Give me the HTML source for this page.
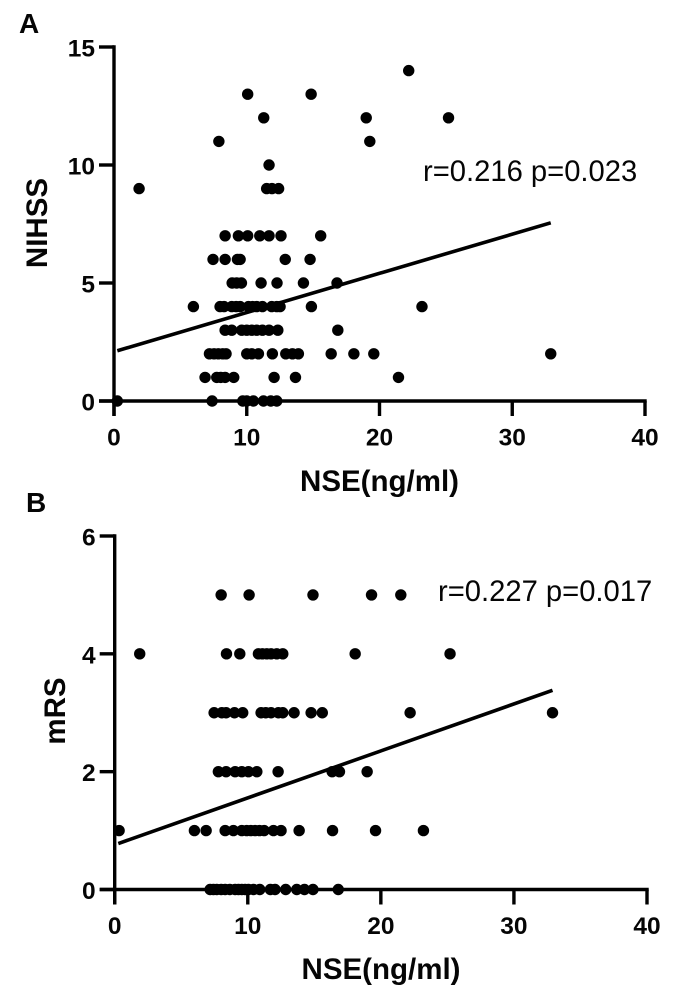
<!DOCTYPE html>
<html lang="en">
<head>
<meta charset="utf-8">
<title>NSE correlation scatter plots</title>
<style>
html,body{margin:0;padding:0;background:#fff;}
svg{display:block;filter:blur(0.35px);}
text{font-family:"Liberation Sans",Arial,sans-serif;fill:#050505;}
.tick{font-size:24.5px;font-weight:700;}
.title{font-size:29.5px;font-weight:700;}
.panel{font-size:28px;font-weight:700;}
.note{font-size:29.2px;font-weight:400;}
</style>
</head>
<body>
<svg id="chart" width="685" height="997" viewBox="0 0 685 997" xmlns="http://www.w3.org/2000/svg"></svg>
<script>
// Panel A data: x values (NSE) grouped by NIHSS score
const nihssLevels = [14,13,12,11,10,9,7,6,5,4,3,2,1,0];
const nihssNse = [
  [22.2],
  [10.07,14.85],
  [11.28,19.0,25.2],
  [7.9,19.27],
  [11.68],
  [1.89,11.5,11.9,12.4],
  [8.37,9.37,10.07,10.98,11.68,12.58,15.57],
  [7.46,8.37,9.3,9.5,12.9,14.77],
  [8.9,9.24,9.6,11.08,12.28,14.27,16.8],
  [5.98,7.99,8.29,8.87,9.2,9.5,10.13,10.45,10.75,11.18,11.88,12.26,12.51,14.87,23.2],
  [8.37,8.87,9.62,10,10.38,10.75,11.18,11.68,12.34,16.86],
  [7.19,7.54,7.86,8.19,8.44,10,10.38,10.88,11.93,12.94,13.44,13.89,16.36,18.07,19.57,32.9],
  [6.86,7.74,8.04,8.37,9.02,12.06,13.67,21.43],
  [0.25,7.39,9.7,10,10.5,11.26,11.81,12.26]
];
const nihssFitX = [0.25,32.9];
const nihssFitY = [2.13,7.55];
const nihssTicksX = [0,10,20,30,40];
const nihssTicksY = [0,5,10,15];

// Panel B data: x values (NSE) grouped by mRS score
const mrsLevels = [5,4,3,2,1,0];
const mrsNse = [
  [8.0,10.1,14.9,19.3,21.5],
  [1.88,8.4,9.4,10.8,11.1,11.43,11.75,12.18,12.63,18.07,25.2],
  [7.47,8.05,8.37,9.0,9.62,11.0,11.35,11.75,12.3,12.63,13.48,14.76,15.6,22.2,32.9],
  [7.79,8.37,9.05,9.55,10.05,10.68,12.28,16.34,16.89,18.97],
  [0.33,5.99,6.87,8.3,8.92,9.55,9.92,10.23,10.55,10.88,11.23,11.93,12.5,13.86,16.37,19.6,23.2],
  [7.17,7.42,7.67,8.0,8.3,8.65,9.05,9.3,9.55,9.8,10.05,10.43,10.9,11.7,12.05,12.85,13.68,14.26,14.9,16.8]
];
const mrsFitX = [0.27,32.9];
const mrsFitY = [0.78,3.38];
const mrsTicksX = [0,10,20,30,40];
const mrsTicksY = [0,2,4,6];

const svg = document.getElementById('chart');
const NS = 'http://www.w3.org/2000/svg';

function make(tag, attrs, text) {
  const el = document.createElementNS(NS, tag);
  for (const k in attrs) el.setAttribute(k, attrs[k]);
  if (text !== undefined) el.textContent = text;
  svg.appendChild(el);
  return el;
}

function drawPanel(cfg) {
  const sx = v => cfg.x0 + (v - cfg.xMin) / (cfg.xMax - cfg.xMin) * (cfg.x1 - cfg.x0);
  const sy = v => cfg.y0 + (v - cfg.yMin) / (cfg.yMax - cfg.yMin) * (cfg.y1 - cfg.y0);

  const xAxis = make('line', {x1: cfg.x0 - 15, x2: cfg.x1 + 1.7, y1: cfg.y0, y2: cfg.y0, stroke: '#000', 'stroke-width': 3.4});
  
  
  const yAxis = make('line', {x1: cfg.x0, x2: cfg.x0, y1: cfg.y1 - 1.7, y2: cfg.y0 + 15, stroke: '#000', 'stroke-width': 3.4});
  
  

  cfg.ticksX.forEach(t => {
    const mark = make('line', {x1: sx(t), x2: sx(t), y1: cfg.y0, y2: cfg.y0 + 15, stroke: '#000', 'stroke-width': 3.4});
    
    
    const label = make('text', {x: sx(t), y: cfg.y0 + 44.5, 'text-anchor': 'middle', class: 'tick'}, t);
    
    
  });
  cfg.ticksY.forEach(t => {
    const mark = make('line', {x1: cfg.x0 - 15, x2: cfg.x0, y1: sy(t), y2: sy(t), stroke: '#000', 'stroke-width': 3.4});
    
    
    const label = make('text', {x: cfg.x0 - 19, y: sy(t) + 9.5, 'text-anchor': 'end', class: 'tick'}, t);
    
    
  });

  cfg.levels.forEach((lvl, i) => {
    cfg.values[i].forEach(v => {
      const dot = make('circle', {cx: sx(v), cy: sy(lvl), r: 5.7, fill: '#000'});
      
      
    });
  });

  const fit = make('line', {x1: sx(cfg.fitX[0]), y1: sy(cfg.fitY[0]), x2: sx(cfg.fitX[1]), y2: sy(cfg.fitY[1]), stroke: '#000', 'stroke-width': 3.6});
  
  

  const xt = make('text', {x: cfg.xTitleX, y: cfg.xTitleY, 'text-anchor': 'middle', class: 'title'}, 'NSE(ng/ml)');
  
  
  const yt = make('text', {x: cfg.yTitleX, y: cfg.yTitleY, 'text-anchor': 'middle', class: 'title', transform: 'rotate(-90 ' + cfg.yTitleX + ' ' + cfg.yTitleY + ')'}, cfg.yTitle);
  
  
  const note = make('text', {x: cfg.noteX, y: cfg.noteY, class: 'note'}, cfg.note);
  
  
  const letter = make('text', {x: cfg.letterX, y: cfg.letterY, class: 'panel'}, cfg.letter);
  
  
}

drawPanel({
  id: 'panel-a', letter: 'A', letterX: 19, letterY: 33,
  x0: 114, x1: 645, y0: 401, y1: 47,
  xMin: 0, xMax: 40, yMin: 0, yMax: 15,
  ticksX: nihssTicksX, ticksY: nihssTicksY,
  levels: nihssLevels, values: nihssNse,
  fitX: nihssFitX, fitY: nihssFitY,
  xTitleX: 379.5, xTitleY: 491, yTitle: 'NIHSS', yTitleX: 47, yTitleY: 223,
  note: 'r=0.216 p=0.023', noteX: 423, noteY: 181
});
drawPanel({
  id: 'panel-b', letter: 'B', letterX: 26, letterY: 512,
  x0: 114.7, x1: 647, y0: 889.5, y1: 536,
  xMin: 0, xMax: 40, yMin: 0, yMax: 6,
  ticksX: mrsTicksX, ticksY: mrsTicksY,
  levels: mrsLevels, values: mrsNse,
  fitX: mrsFitX, fitY: mrsFitY,
  xTitleX: 381, xTitleY: 979, yTitle: 'mRS', yTitleX: 65, yTitleY: 711,
  note: 'r=0.227 p=0.017', noteX: 438, noteY: 601
});
</script>
</body>
</html>
